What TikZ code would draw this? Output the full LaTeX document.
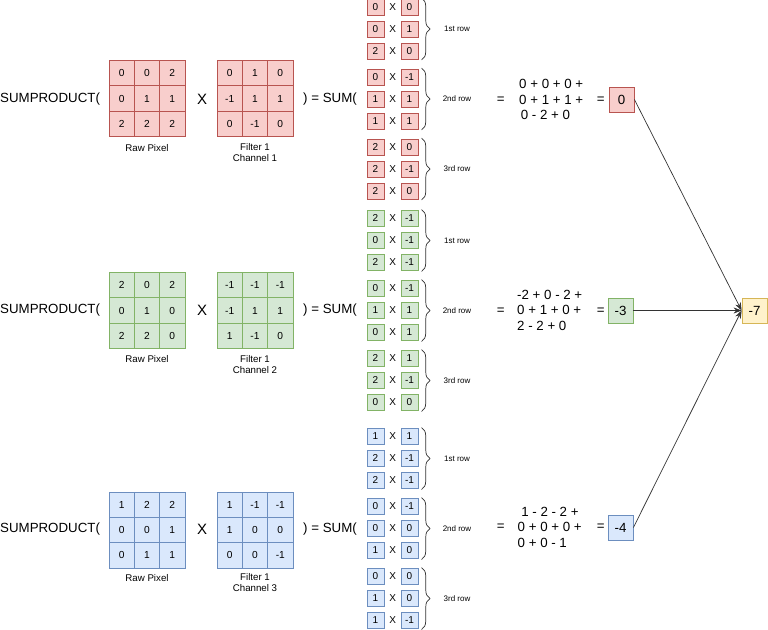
\documentclass[tikz,border=0pt]{standalone}
\usepackage{fontspec}
\setmainfont{Liberation Sans}
\usetikzlibrary{matrix,decorations.pathreplacing,arrows.meta}
\definecolor{redF}{HTML}{F8CECC}\definecolor{redD}{HTML}{B85450}
\definecolor{grnF}{HTML}{D5E8D4}\definecolor{grnD}{HTML}{82B366}
\definecolor{bluF}{HTML}{DAE8FC}\definecolor{bluD}{HTML}{6C8EBF}
\definecolor{yelF}{HTML}{FFF2CC}\definecolor{yelD}{HTML}{D6B656}
\definecolor{lineC}{HTML}{333333}
\newcommand{\prodcol}[4]{%
  \foreach \a/\b [count=\i from 0] in {#4} {
    \pgfmathtruncatemacro\g{div(\i,3)-1}
    \pgfmathtruncatemacro\k{mod(\i,3)-1}
    \pgfmathsetmacro\yy{#2+70*\g+22*\k}
    \node[pbox,#3] (#1l\i) at (375.5,\yy) {\a};
    \node[xsmall] (#1x\i) at (392.7,\yy) {X};
    \node[pbox,#3] (#1r\i) at (409.5,\yy) {\b};
  }
  \foreach \g/\lab [count=\j] in {-1/1st row,0/2nd row,1/3rd row} {
    \draw[bracesty] (421.5,#2+70*\g-31) -- (421.5,#2+70*\g+31);
    \node[rowlab] (#1b\j) at (457,#2+70*\g) {\lab};
  }
}
\begin{document}
\begin{tikzpicture}[x=1pt,y=-1pt,
  cell/.style={draw, minimum size=25.33pt, inner sep=0pt, line width=0.8pt, font=\fontsize{10.2}{12}\selectfont},
  pbox/.style={draw, minimum width=17pt, minimum height=16pt, inner sep=0pt, line width=0.8pt, font=\fontsize{10}{12}\selectfont},
  xsmall/.style={inner sep=0pt, font=\fontsize{10}{12}\selectfont},
  rowlab/.style={inner sep=0pt, font=\fontsize{8}{9}\selectfont},
  bigtxt/.style={inner sep=0pt, font=\fontsize{13.3}{15.5}\selectfont},
  bigx/.style={inner sep=0pt, font=\fontsize{15}{17}\selectfont},
  caption/.style={inner sep=0pt, align=center, font=\fontsize{9.7}{11}\selectfont},
  eqn/.style={inner sep=0pt, anchor=west, align=left, font=\fontsize{13.3}{15.5}\selectfont},
  resbox/.style={draw, minimum size=25pt, inner sep=0pt, line width=0.8pt, font=\fontsize{13.3}{15.5}\selectfont},
  bracesty/.style={draw=lineC, line width=0.7pt, decorate, decoration={brace, amplitude=8.5pt}},
  redsty/.style={fill=redF, draw=redD},
  grnsty/.style={fill=grnF, draw=grnD},
  blusty/.style={fill=bluF, draw=bluD},
  arr/.style={draw=lineC, line width=0.7pt, -{Stealth[length=8pt,width=6pt]}},
  mat/.style={matrix of nodes, column sep=-0.8pt, row sep=-0.8pt, inner sep=0pt}
]
\useasboundingbox (0,0) rectangle (768,629);

% ---------- Section 1 (red) ----------
\node[bigtxt, anchor=west] (sp1) at (0,99) {SUMPRODUCT(};
\matrix (raw1) at (147,98.5) [mat, nodes={cell, redsty}] {0 & 0 & 2\\ 0 & 1 & 1\\ 2 & 2 & 2\\};
\node[bigx] (x1) at (202,99) {X};
\matrix (fil1) at (255,98.5) [mat, nodes={cell, redsty}] {0 & 1 & 0\\ -1 & 1 & 1\\ 0 & -1 & 0\\};
\node[caption] (rp1) at (147,148) {Raw Pixel};
\node[caption] (fc1) at (255,153) {Filter 1\\Channel 1};
\node[bigtxt, anchor=west] (sum1) at (303,99) {) = SUM(};
\prodcol{a}{99}{redsty}{0/0,0/1,2/0,0/-1,1/1,1/1,2/0,2/-1,2/0}
\node[bigtxt] (eqa1) at (500.7,100) {=};
\node[eqn] (eq1) at (519,99.5) {0 + 0 + 0 +\\0 + 1 + 1 +\\\hspace{1.6pt}0 - 2 + 0};
\node[bigtxt] (eqb1) at (600.7,100) {=};
\node[resbox, redsty] (res1) at (621.5,99.5) {0};

% ---------- Section 2 (green) ----------
\node[bigtxt, anchor=west] (sp2) at (0,310.5) {SUMPRODUCT(};
\matrix (raw2) at (147,310.5) [mat, nodes={cell, grnsty}] {2 & 0 & 2\\ 0 & 1 & 0\\ 2 & 2 & 0\\};
\node[bigx] (x2) at (202,310.5) {X};
\matrix (fil2) at (255,310.5) [mat, nodes={cell, grnsty}] {-1 & -1 & -1\\ -1 & 1 & 1\\ 1 & -1 & 0\\};
\node[caption] (rp2) at (147,359.5) {Raw Pixel};
\node[caption] (fc2) at (255,364.5) {Filter 1\\Channel 2};
\node[bigtxt, anchor=west] (sum2) at (303,310.5) {) = SUM(};
\prodcol{b}{310.5}{grnsty}{2/-1,0/-1,2/-1,0/-1,1/1,0/1,2/1,2/-1,0/0}
\node[bigtxt] (eqa2) at (500.7,311) {=};
\node[eqn] (eq2) at (517,310) {-2 + 0 - 2 +\\0 + 1 + 0 +\\2 - 2 + 0};
\node[bigtxt] (eqb2) at (600.7,311) {=};
\node[resbox, grnsty] (res2) at (620.5,310.5) {-3};

% ---------- Section 3 (blue) ----------
\node[bigtxt, anchor=west] (sp3) at (0,529.5) {SUMPRODUCT(};
\matrix (raw3) at (147,530) [mat, nodes={cell, blusty}] {1 & 2 & 2\\ 0 & 0 & 1\\ 0 & 1 & 1\\};
\node[bigx] (x3) at (202,529.5) {X};
\matrix (fil3) at (255,530) [mat, nodes={cell, blusty}] {1 & -1 & -1\\ 1 & 0 & 0\\ 0 & 0 & -1\\};
\node[caption] (rp3) at (147,578) {Raw Pixel};
\node[caption] (fc3) at (255,583) {Filter 1\\Channel 3};
\node[bigtxt, anchor=west] (sum3) at (303,529.5) {) = SUM(};
\prodcol{c}{528.5}{blusty}{1/1,2/-1,2/-1,0/-1,0/0,1/0,0/0,1/0,1/-1}
\node[bigtxt] (eqa3) at (500.7,527.5) {=};
\node[eqn] (eq3) at (517.5,527) {\hspace{3.6pt}1 - 2 - 2 +\\0 + 0 + 0 +\\0 + 0 - 1};
\node[bigtxt] (eqb3) at (600.7,527.5) {=};
\node[resbox, blusty] (res3) at (620.5,527.5) {-4};

% ---------- Final ----------
\node[resbox, fill=yelF, draw=yelD] (fin) at (754.5,310.5) {-7};
\draw[arr] (res1.east) -- (fin.west);
\draw[arr] (res2.east) -- (fin.west);
\draw[arr] (res3.east) -- (fin.west);
\end{tikzpicture}
\end{document}
